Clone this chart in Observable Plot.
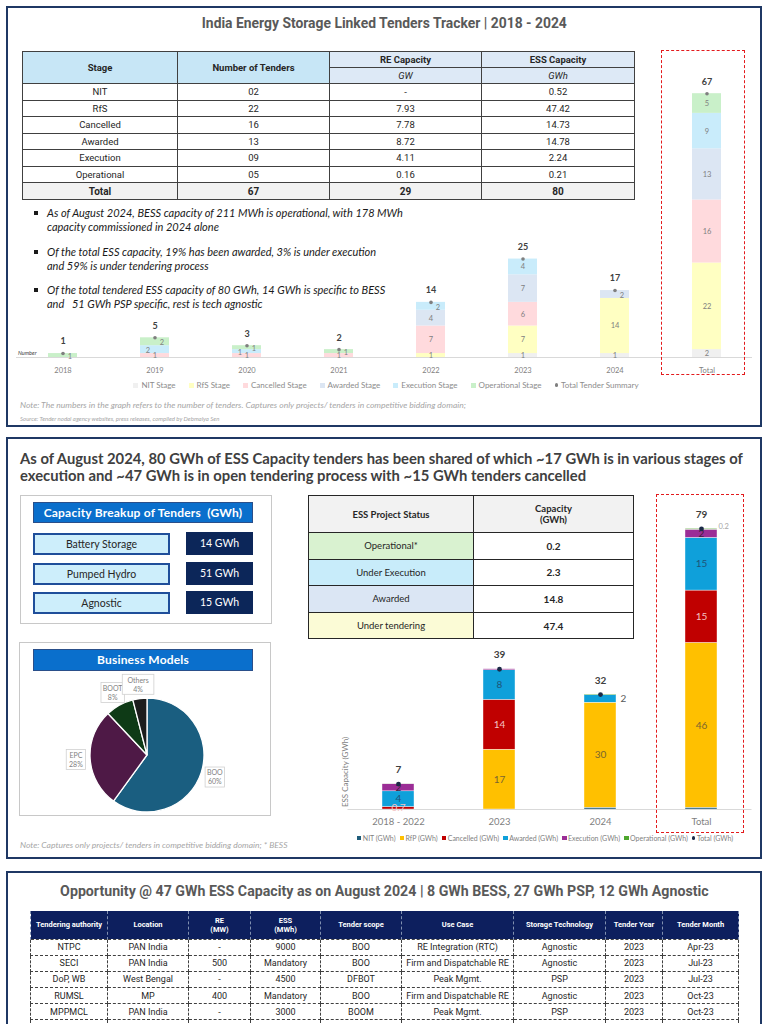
<!DOCTYPE html>
<html><head><meta charset="utf-8">
<script src="https://cdn.jsdelivr.net/npm/d3@7"></script>
<script src="https://cdn.jsdelivr.net/npm/@observablehq/plot@0.6"></script>
<style>
html,body{margin:0;padding:0;background:#fff;}
#page{position:relative;width:768px;height:1024px;overflow:hidden;font-family:Lato,"Noto Sans",sans-serif;color:#262626;}
.abs{position:absolute;}
.panel{position:absolute;left:6px;width:756px;border:2.5px solid #1f3864;box-sizing:border-box;}
.narrow{font-family:"Liberation Sans Narrow","Arial Narrow",Roboto,sans-serif;}
.title1{font-weight:bold;color:#595959;text-align:center;white-space:nowrap;}
.title1 span{display:inline-block;transform-origin:center;}
table{border-collapse:collapse;table-layout:fixed;}
#t1 td,#t1 th{border:1px solid #404040;text-align:center;padding:0;font-size:9.5px;color:#262626;}
#t1 th{font-weight:bold;}
#t1 .hb{background:#c7e6f6;}
#t1 .hl{background:#dde9f6;}
#t1 .unit{font-weight:normal;font-style:italic;}
#t1 tr.tot td{background:#f2f2f2;font-weight:bold;font-size:10px;}
.bullets{font-style:italic;font-size:11px;color:#1a1a1a;line-height:13.5px;}
.bullets .b{position:absolute;white-space:nowrap;}
.bullets .sq{position:absolute;left:-13px;top:5px;width:3.5px;height:3.5px;background:#1a1a1a;}
.legend{display:flex;justify-content:center;align-items:center;white-space:nowrap;}
.legend .it{display:flex;align-items:center;}
.note{font-style:italic;color:#a6a6a6;white-space:nowrap;}
.title2{font-weight:bold;color:#404040;font-size:14.8px;line-height:17px;white-space:nowrap;}
.box{border:1px solid #c8c8c8;box-sizing:border-box;}
.bluebar{background:#0a6fcc;color:#fff;font-weight:bold;text-align:center;border:1px solid #2a4f8a;box-sizing:border-box;letter-spacing:0.2px;}
.lbox{background:#cdeefb;border:2px solid #1f4e9a;box-sizing:border-box;text-align:center;font-size:10.5px;color:#262626;}
.dbox{background:#0c2659;box-sizing:border-box;text-align:center;font-size:10.5px;color:#fff;}
#t2 td,#t2 th{border:1.5px solid #262626;text-align:center;padding:0;font-size:9.5px;color:#262626;}
#t2 th{background:#f2f2f2;font-weight:bold;}
#t2 td.v{font-weight:bold;background:#fff;font-size:10px;}
#t3 th{background:#0d1f5e;color:#fff;font-weight:bold;font-size:7.5px;border-left:1px dashed #8090b0;border-right:1px dashed #8090b0;padding:0;line-height:9px;}
#t3 td{border:1px dashed #404040;text-align:center;padding:0;font-size:9px;color:#262626;}
.dash{position:absolute;border:1.5px dashed #e31a1c;box-sizing:border-box;}
</style></head>
<body><div id="page">
<div class="panel" style="top:6px;height:421px;"></div>
<div class="panel" style="top:437px;height:422px;"></div>
<div class="panel" style="top:871px;height:170px;"></div>

<div class="abs title1 narrow" style="left:0;width:768px;top:14px;font-size:15px;"><span style="transform:scaleX(0.925)">India Energy Storage Linked Tenders Tracker | 2018 - 2024</span></div>
<div id="chart1" class="abs" style="left:0;top:40px;z-index:1;"></div>
<div class="dash" style="left:661px;top:50px;width:84px;height:325px;z-index:2;"></div>
<table id="t1" class="abs narrow" style="left:22px;top:51px;width:612px;z-index:3;">
<colgroup><col style="width:155px"><col style="width:152px"><col style="width:152px"><col style="width:153px"></colgroup>
<thead>
<tr style="height:16px"><th rowspan="2" class="hb">Stage</th><th rowspan="2" class="hb">Number of Tenders</th><th class="hl">RE Capacity</th><th class="hl">ESS Capacity</th></tr>
<tr style="height:16px"><th class="hl unit">GW</th><th class="hl unit">GWh</th></tr>
</thead><tbody id="t1body"></tbody></table>
<div class="abs bullets" id="bullets" style="left:47px;top:206px;z-index:3;"></div>
<div class="abs legend" id="legend1" style="left:0;width:772px;top:380px;font-size:8px;color:#8c8c8c;z-index:3;"></div>
<div class="abs note" style="left:20px;top:400px;font-size:8.5px;">Note: The numbers in the graph refers to the number of tenders. Captures only projects/ tenders in competitive bidding domain;</div>
<div class="abs note" style="left:20px;top:415px;font-size:6px;">Source: Tender nodal agency websites, press releases, compiled by Debmalya Sen</div>

<div class="abs title2" style="left:20px;top:450px;">As of August 2024, 80 GWh of ESS Capacity tenders has been shared of which ~17 GWh is in various stages of<br>execution and ~47 GWh is in open tendering process with ~15 GWh tenders cancelled</div>
<div class="abs box" style="left:20px;top:495px;width:252px;height:129px;"></div>
<div class="abs bluebar" style="left:33px;top:502px;width:220px;height:21px;line-height:19px;font-size:12px;">Capacity Breakup of Tenders&nbsp; (GWh)</div>
<div id="capRows"></div>
<div class="abs box" style="left:19px;top:642px;width:252px;height:174px;"></div>
<div id="pie" class="abs" style="left:19px;top:642px;"></div>
<div class="abs bluebar" style="left:33px;top:649px;width:220px;height:22px;line-height:20px;font-size:12px;">Business Models</div>
<div class="abs note" style="left:20px;top:840px;font-size:8.5px;">Note: Captures only projects/ tenders in competitive bidding domain; * BESS</div>
<table id="t2" class="abs" style="left:308px;top:495px;width:325px;z-index:3;">
<colgroup><col style="width:165px"><col style="width:160px"></colgroup>
<thead><tr style="height:37px"><th>ESS Project Status</th><th>Capacity<br>(GWh)</th></tr></thead>
<tbody id="t2body"></tbody></table>
<div id="chart2" class="abs" style="left:0;top:480px;z-index:1;"></div>
<div class="dash" style="left:656px;top:494px;width:88px;height:339px;z-index:2;"></div>
<div class="abs" style="left:345px;top:772px;transform:translate(-50%,-50%) rotate(-90deg);font-size:8px;color:#7f7f7f;white-space:nowrap;">ESS Capacity (GWh)</div>
<div class="abs legend" id="legend2" style="left:345px;width:400px;top:834px;font-size:7px;color:#7f7f7f;"></div>

<div class="abs title1 narrow" style="left:0;width:768px;top:882px;font-size:15.5px;"><span style="transform:scaleX(0.915)">Opportunity @ 47 GWh ESS Capacity as on August 2024 | 8 GWh BESS, 27 GWh PSP, 12 GWh Agnostic</span></div>
<table id="t3" class="abs narrow" style="left:30px;top:911px;width:708px;">
<colgroup id="t3cols"></colgroup>
<thead><tr style="height:28px" id="t3head"></tr></thead>
<tbody id="t3body"></tbody></table>
</div>
<script>
// ---------- Panel 1 data ----------
const tableStages = ["NIT","RfS","Cancelled","Awarded","Execution","Operational"];
const tableCounts = ["02","22","16","13","09","05"];
const tableRE = ["-","7.93","7.78","8.72","4.11","0.16"];
const tableESS = ["0.52","47.42","14.73","14.78","2.24","0.21"];
const tableTotals = ["Total","67","29","80"];

const bulletLines = [
  ["As of August 2024, BESS capacity of 211 MWh is operational, with 178 MWh","capacity commissioned in 2024 alone"],
  ["Of the total ESS capacity, 19% has been awarded, 3% is under execution","and 59% is under tendering process"],
  ["Of the total tendered ESS capacity of 80 GWh, 14 GWh is specific to BESS","and &nbsp; 51 GWh PSP specific, rest is tech agnostic"]
];

const tenderYears = ["2018","2019","2020","2021","2022","2023","2024","Total"];
const tenderStages = ["NIT Stage","RfS Stage","Cancelled Stage","Awarded Stage","Execution Stage","Operational Stage"];
const nitTenders         = [0,0,0,0,0,1,1,2];
const rfsTenders         = [0,0,0,0,1,7,14,22];
const cancelledTenders   = [0,1,1,1,7,6,0,16];
const awardedTenders     = [0,0,0,0,4,7,2,13];
const executionTenders   = [0,2,1,0,2,4,0,9];
const operationalTenders = [1,2,1,1,0,0,0,5];
const tenderColors = ["#f0f0f0","#ffffc2","#ffdadd","#dce6f3","#c9ecfb","#c9f0c9"];

// ---------- Panel 2 data ----------
const capTypes = ["Battery Storage","Pumped Hydro","Agnostic"];
const capValues = ["14 GWh","51 GWh","15 GWh"];
const bmNames = ["BOO","EPC","BOOT","Others"];
const bmShares = [60,28,8,4];
const bmColors = ["#1a5e80","#4e1946","#0e3a16","#1c1c1c"];
const essStatus = ["Operational*","Under Execution","Awarded","Under tendering"];
const essStatusCap = ["0.2","2.3","14.8","47.4"];
const essStatusBg = ["#d9f2d0","#c8ecfa","#dbe6f4","#fbfbd6"];

const essCats = ["2018 - 2022","2023","2024","Total"];
const essSeries = ["NIT (GWh)","RfP (GWh)","Cancelled (GWh)","Awarded (GWh)","Execution (GWh)","Operational (GWh)"];
const nitGWh         = [0, 0, 0.5, 0.5];
const rfpGWh         = [0, 16.8, 29.5, 46.3];
const cancelledGWh   = [0.7, 14.0, 0, 14.7];
const awardedGWh     = [4.4, 8.3, 2.1, 14.8];
const executionGWh   = [2.0, 0.3, 0, 2.3];
const operationalGWh = [0.03, 0, 0.18, 0.21];
const essColors = ["#1f5c7a","#ffc000","#c00000","#0fa0da","#9b2d96","#4ea72e"];
const essLabelColors = ["#ffffff","#7a6530","#f3c2c2","#1e5478","#3f1d3d","#333333"];
const essOutside = [["2024","Awarded (GWh)"],["Total","Operational (GWh)"]];

// ---------- Panel 3 data ----------
const oppHeaders = ["Tendering authority","Location","RE<br>(MW)","ESS<br>(MWh)","Tender scope","Use Case","Storage Technology","Tender Year","Tender Month"];
const oppAuthority = ["NTPC","SECI","DoP, WB","RUMSL","MPPMCL","AEML"];
const oppLocation  = ["PAN India","PAN India","West Bengal","MP","PAN India","Mumbai"];
const oppRE        = ["-","500","-","400","-","-"];
const oppESS       = ["9000","Mandatory","4500","Mandatory","3000","66"];
const oppScope     = ["BOO","BOO","DFBOT","BOO","BOOM","EPC"];
const oppUseCase   = ["RE Integration (RTC)","Firm and Dispatchable RE","Peak Mgmt.","Firm and Dispatchable RE","Peak Mgmt.","Grid Resilience"];
const oppTech      = ["Agnostic","Agnostic","PSP","Agnostic","PSP","BESS"];
const oppYear      = ["2023","2023","2023","2023","2023","2023"];
const oppMonth     = ["Apr-23","Jul-23","Jul-23","Oct-23","Oct-23","Oct-23"];

// ---------- Build tables ----------
const t1 = document.getElementById("t1body");
tableStages.forEach((s,i)=>{
  const tr=document.createElement("tr"); tr.style.height="16.5px";
  [s,tableCounts[i],tableRE[i],tableESS[i]].forEach(v=>{const td=document.createElement("td");td.textContent=v;tr.appendChild(td);});
  t1.appendChild(tr);
});
{ const tr=document.createElement("tr"); tr.className="tot"; tr.style.height="17px";
  tableTotals.forEach(v=>{const td=document.createElement("td");td.textContent=v;tr.appendChild(td);}); t1.appendChild(tr); }

const bl = document.getElementById("bullets");
const bulletTops=[0,39,77];
bulletLines.forEach((lines,i)=>{
  const d=document.createElement("div"); d.className="b"; d.style.top=bulletTops[i]+"px"; d.style.left="0px";
  d.innerHTML='<div class="sq"></div>'+lines.join("<br>"); bl.appendChild(d);
});

const capRows=document.getElementById("capRows");
const capTops=[533,563,592];
capTypes.forEach((c,i)=>{
  const a=document.createElement("div"); a.className="abs lbox";
  Object.assign(a.style,{left:"33px",top:capTops[i]+"px",width:"137px",height:"22px",lineHeight:"18px"}); a.textContent=c; capRows.appendChild(a);
  const b=document.createElement("div"); b.className="abs dbox";
  Object.assign(b.style,{left:"186px",top:(capTops[i]-1)+"px",width:"67px",height:"23px",lineHeight:"23px"}); b.textContent=capValues[i]; capRows.appendChild(b);
});

const t2=document.getElementById("t2body");
essStatus.forEach((s,i)=>{
  const tr=document.createElement("tr"); tr.style.height="26.6px";
  const a=document.createElement("td"); a.textContent=s; a.style.background=essStatusBg[i];
  const b=document.createElement("td"); b.className="v"; b.textContent=essStatusCap[i];
  tr.appendChild(a); tr.appendChild(b); t2.appendChild(tr);
});

const t3colW=[77,81,62,70,81,112,92,57,76];
const cg=document.getElementById("t3cols");
t3colW.forEach(w=>{const c=document.createElement("col");c.style.width=w+"px";cg.appendChild(c);});
const th3=document.getElementById("t3head");
oppHeaders.forEach(h=>{const th=document.createElement("th");th.innerHTML=h;th3.appendChild(th);});
const t3=document.getElementById("t3body");
oppAuthority.forEach((a,i)=>{
  const tr=document.createElement("tr"); tr.style.height="16.2px";
  [a,oppLocation[i],oppRE[i],oppESS[i],oppScope[i],oppUseCase[i],oppTech[i],oppYear[i],oppMonth[i]].forEach(v=>{const td=document.createElement("td");td.textContent=v;tr.appendChild(td);});
  t3.appendChild(tr);
});

// ---------- Chart 1 ----------
const tenderArrays=[nitTenders,rfsTenders,cancelledTenders,awardedTenders,executionTenders,operationalTenders];
const tSegs=[], tTotals=[];
tenderYears.forEach((yr,i)=>{
  let acc=0; let topIdx=-1;
  const barTotal=d3.sum(tenderArrays,a=>a[i]);
  tenderArrays.forEach((a,j)=>{ if(a[i]>0) topIdx=j; });
  tenderArrays.forEach((a,j)=>{
    const v=a[i]; if(v>0){
      const top=j===topIdx;
      let shift=0;
      if(top && v<=2) shift=1; else if(barTotal<=5 && acc>0) shift=-1;
      tSegs.push({year:yr,stage:tenderStages[j],color:tenderColors[j],value:v,y1:acc,y2:acc+v,top,shift}); acc+=v; }
  });
  tTotals.push({year:yr,total:acc});
});
const segLabel = (shift, dx) => Plot.text(tSegs,{filter:d=>d.shift===shift,x:"year",y:d=>(d.y1+d.y2)/2,text:"value",fill:"#7f7f7f",fontSize:7.5,dx,dy:shift?1:0});
const chart1 = Plot.plot({
  width:768, height:340, marginLeft:16, marginRight:16, marginTop:2, marginBottom:23,
  style:{fontFamily:"Lato, sans-serif", background:"transparent", overflow:"visible"},
  x:{domain:tenderYears, paddingInner:0.685, paddingOuter:0.3425},
  y:{domain:[0,80], axis:null},
  color:{type:"identity"},
  marks:[
    Plot.barY(tSegs,{x:"year",y1:"y1",y2:"y2",fill:"color"}),
    Plot.ruleY([0],{stroke:"#d9d9d9"}),
    segLabel(0,0), segLabel(1,7), segLabel(-1,-7),
    Plot.dot(tTotals,{x:"year",y:"total",r:1.8,fill:"#7f7f7f"}),
    Plot.text(tTotals,{x:"year",y:"total",text:"total",dy:-12,fontWeight:"bold",fontSize:9,fill:"#404040"}),
    Plot.axisX({tickSize:0,tickPadding:10,fontSize:7.5,fill:"#7f7f7f",label:null})
  ]
});
document.getElementById("chart1").appendChild(chart1);
const numLbl=document.createElement("div"); numLbl.className="abs";
Object.assign(numLbl.style,{left:"18px",top:"350px",fontSize:"5.5px",fontStyle:"italic",color:"#404040",zIndex:3}); numLbl.textContent="Number";
document.getElementById("page").appendChild(numLbl);

const lg1=document.getElementById("legend1");
tenderStages.forEach((s,j)=>{
  const it=document.createElement("div"); it.className="it"; it.style.marginRight="13px";
  it.innerHTML=`<span style="display:inline-block;width:5px;height:5px;background:${tenderColors[j]};margin-right:3px"></span>${s}`; lg1.appendChild(it);
});
{ const it=document.createElement("div"); it.className="it";
  it.innerHTML=`<span style="display:inline-block;width:3.5px;height:3.5px;border-radius:50%;background:#7f7f7f;margin-right:3px"></span>Total Tender Summary`; lg1.appendChild(it); }

// ---------- Chart 2 ----------
const essArrays=[nitGWh,rfpGWh,cancelledGWh,awardedGWh,executionGWh,operationalGWh];
const eSegs=[], eTotals=[];
essCats.forEach((c,i)=>{
  let acc=0;
  essArrays.forEach((a,j)=>{
    const v=a[i]; if(v>0){
      const out=essOutside.some(o=>o[0]===c&&o[1]===essSeries[j]);
      eSegs.push({cat:c,series:essSeries[j],color:essColors[j],value:v,y1:acc,y2:acc+v,outside:out});
      acc+=v; }
  });
  eTotals.push({cat:c,total:acc});
});
const fmt = v => v<1 ? v.toFixed(1) : String(Math.round(v));
const inside = eSegs.filter(d=>!d.outside && d.value>=0.6);
const insideMarks = essSeries.map((s,j)=>Plot.text(inside.filter(d=>d.series===s),{x:"cat",y:d=>(d.y1+d.y2)/2,text:d=>fmt(d.value),fill:essLabelColors[j],fontSize:10}));
const chart2 = Plot.plot({
  width:768, height:350, marginLeft:347.5, marginRight:16.5, marginTop:8.6, marginBottom:21,
  style:{fontFamily:"Lato, sans-serif", background:"transparent", overflow:"visible"},
  x:{domain:essCats, paddingInner:0.683, paddingOuter:0.3415},
  y:{domain:[0,90], axis:null},
  color:{type:"identity"},
  marks:[
    Plot.barY(eSegs,{x:"cat",y1:"y1",y2:"y2",fill:"color",stroke:"#ffffff",strokeWidth:0.4}),
    Plot.ruleY([0],{stroke:"#d9d9d9"}),
    ...insideMarks,
    Plot.text(eSegs.filter(d=>d.outside && d.value>=1),{x:"cat",y:d=>(d.y1+d.y2)/2,text:d=>fmt(d.value),fill:"#595959",fontSize:10,textAnchor:"start",dx:20}),
    Plot.text(eSegs.filter(d=>d.outside && d.value<1),{x:"cat",y:"y2",text:d=>fmt(d.value),fill:"#a6a6a6",fontSize:7.5,textAnchor:"start",dx:17,dy:-2}),
    Plot.dot(eTotals,{x:"cat",y:"total",r:2.4,fill:"#1b2a47"}),
    Plot.text(eTotals,{x:"cat",y:"total",text:d=>String(Math.round(d.total)),dy:-14,fontWeight:"bold",fontSize:10,fill:"#404040"}),
    Plot.axisX({tickSize:0,tickPadding:8.5,fontSize:9.5,fill:"#7f7f7f",label:null})
  ]
});
document.getElementById("chart2").appendChild(chart2);

const lg2=document.getElementById("legend2");
essSeries.forEach((s,j)=>{
  const it=document.createElement("div"); it.className="it"; it.style.marginRight="4px";
  it.innerHTML=`<span style="display:inline-block;width:4.5px;height:4.5px;background:${essColors[j]};margin-right:1.5px"></span>${s}`; lg2.appendChild(it);
});
{ const it=document.createElement("div"); it.className="it";
  it.innerHTML=`<span style="display:inline-block;width:3.5px;height:3.5px;border-radius:50%;background:#1b2a47;margin-right:1.5px"></span>Total (GWh)`; lg2.appendChild(it); }

// ---------- Pie ----------
const bmData = bmNames.map((n,i)=>({name:n,share:bmShares[i],color:bmColors[i]}));
const pieMark = (index, scales, values, dims) => {
  const {width,height,marginLeft,marginRight,marginTop,marginBottom}=dims;
  const cx=(marginLeft+width-marginRight)/2, cy=(marginTop+height-marginBottom)/2;
  const r=Math.min(width-marginLeft-marginRight,height-marginTop-marginBottom)/2;
  const arcs=d3.pie().sort(null).value(d=>d.share)(bmData);
  const g=d3.create("svg:g");
  const arc=d3.arc().innerRadius(0).outerRadius(r);
  g.append("g").attr("transform",`translate(${cx},${cy})`).selectAll("path").data(arcs).join("path")
    .attr("d",arc).attr("fill",d=>d.data.color).attr("stroke","#fff").attr("stroke-width",1.3);
  const R=r*1.25;
  arcs.forEach(a=>{
    const m=(a.startAngle+a.endAngle)/2;
    const lx=cx+Math.sin(m)*R, ly=cy-Math.cos(m)*R;
    const lines=[a.data.name, a.data.share+"%"];
    const w=Math.max(...lines.map(s=>s.length))*4.1+7, h=20;
    g.append("rect").attr("x",lx-w/2).attr("y",ly-h/2).attr("width",w).attr("height",h).attr("fill","#fff").attr("stroke","#d0d0d0").attr("stroke-width",0.8);
    lines.forEach((s,k)=>g.append("text").attr("x",lx).attr("y",ly-3.5+k*9).attr("text-anchor","middle").attr("dominant-baseline","middle")
      .attr("font-size",7).attr("fill","#7f7f7f").text(s));
  });
  return g.node();
};
const pie = Plot.plot({
  width:252, height:174, marginTop:56, marginBottom:4, marginLeft:71, marginRight:67,
  style:{fontFamily:"Lato, sans-serif", background:"transparent", overflow:"visible"},
  marks:[pieMark]
});
document.getElementById("pie").appendChild(pie);
</script>
</body></html>
